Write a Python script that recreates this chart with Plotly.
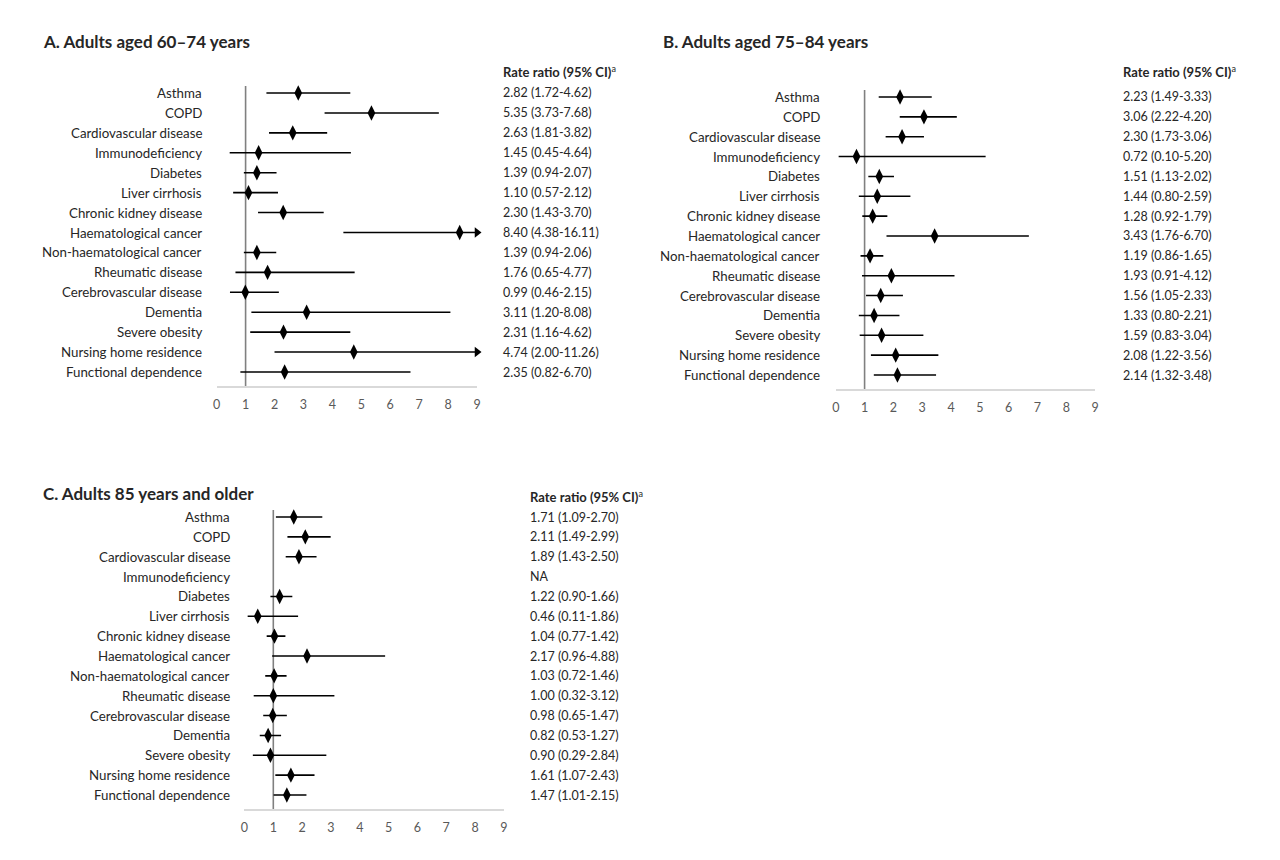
import plotly.graph_objects as go

conditions = [
    "Asthma", "COPD", "Cardiovascular disease", "Immunodeficiency", "Diabetes",
    "Liver cirrhosis", "Chronic kidney disease", "Haematological cancer",
    "Non-haematological cancer", "Rheumatic disease", "Cerebrovascular disease",
    "Dementia", "Severe obesity", "Nursing home residence", "Functional dependence",
]

# Panel A: adults aged 60-74
a_rr = [2.82, 5.35, 2.63, 1.45, 1.39, 1.10, 2.30, 8.40, 1.39, 1.76, 0.99, 3.11, 2.31, 4.74, 2.35]
a_lo = [1.72, 3.73, 1.81, 0.45, 0.94, 0.57, 1.43, 4.38, 0.94, 0.65, 0.46, 1.20, 1.16, 2.00, 0.82]
a_hi = [4.62, 7.68, 3.82, 4.64, 2.07, 2.12, 3.70, 16.11, 2.06, 4.77, 2.15, 8.08, 4.62, 11.26, 6.70]

# Panel B: adults aged 75-84
b_rr = [2.23, 3.06, 2.30, 0.72, 1.51, 1.44, 1.28, 3.43, 1.19, 1.93, 1.56, 1.33, 1.59, 2.08, 2.14]
b_lo = [1.49, 2.22, 1.73, 0.10, 1.13, 0.80, 0.92, 1.76, 0.86, 0.91, 1.05, 0.80, 0.83, 1.22, 1.32]
b_hi = [3.33, 4.20, 3.06, 5.20, 2.02, 2.59, 1.79, 6.70, 1.65, 4.12, 2.33, 2.21, 3.04, 3.56, 3.48]

# Panel C: adults 85 and older
c_rr = [1.71, 2.11, 1.89, None, 1.22, 0.46, 1.04, 2.17, 1.03, 1.00, 0.98, 0.82, 0.90, 1.61, 1.47]
c_lo = [1.09, 1.49, 1.43, None, 0.90, 0.11, 0.77, 0.96, 0.72, 0.32, 0.65, 0.53, 0.29, 1.07, 1.01]
c_hi = [2.70, 2.99, 2.50, None, 1.66, 1.86, 1.42, 4.88, 1.46, 3.12, 1.47, 1.27, 2.84, 2.43, 2.15]

titles = ["A. Adults aged 60–74 years", "B. Adults aged 75–84 years", "C. Adults 85 years and older"]
x_ticks = [0, 1, 2, 3, 4, 5, 6, 7, 8, 9]
x_max = 9
header = "<b>Rate ratio (95% CI)</b><sup>a</sup>"

W, H = 1280, 860
FONT = "Lato"

# layout (pixels): plot x0, x1, top, bottom, first row, last row, label right, value left, title xy, header y
panels = [
    dict(rr=a_rr, lo=a_lo, hi=a_hi, x0=214, x1=476, top=86, bot=386, r0=93, r1=372,
         lab=201, val=500, tx=37, ty=41, hy=72),
    dict(rr=b_rr, lo=b_lo, hi=b_hi, x0=837, x1=1098, top=90, bot=389, r0=97, r1=375,
         lab=823, val=1124, tx=661, ty=41, hy=72),
    dict(rr=c_rr, lo=c_lo, hi=c_hi, x0=242, x1=503, top=510, bot=809, r0=517, r1=795,
         lab=229, val=527, tx=37, ty=493, hy=497),
]

fig = go.Figure()
annotations = []
shapes = []
n = len(conditions)

for k, p in enumerate(panels, start=1):
    xa = "x" if k == 1 else f"x{k}"
    ya = "y" if k == 1 else f"y{k}"
    s = (p["r1"] - p["r0"]) / (n - 1)
    y_top = -(p["r0"] - p["top"]) / s
    y_bot = (n - 1) + (p["bot"] - p["r1"]) / s

    idx = [i for i in range(n) if p["rr"][i] is not None]
    xs = [p["rr"][i] for i in idx]
    plus = [min(p["hi"][i], x_max) - p["rr"][i] for i in idx]
    minus = [p["rr"][i] - p["lo"][i] for i in idx]

    fig.add_trace(go.Scatter(
        x=xs, y=idx, xaxis=xa, yaxis=ya, mode="markers",
        marker=dict(symbol="diamond-tall", size=11, color="black"),
        error_x=dict(type="data", symmetric=False, array=plus, arrayminus=minus,
                     thickness=1.6, width=0, color="black"),
        showlegend=False, hoverinfo="skip", cliponaxis=False,
    ))
    arr = [i for i in idx if p["hi"][i] > x_max]
    if arr:
        fig.add_trace(go.Scatter(
            x=[x_max] * len(arr), y=arr, xaxis=xa, yaxis=ya, mode="markers",
            marker=dict(symbol="triangle-right", size=9, color="black"),
            showlegend=False, hoverinfo="skip", cliponaxis=False,
        ))

    sfx = "" if k == 1 else str(k)
    fig.update_layout(**{
        f"xaxis{sfx}": dict(
            domain=[p["x0"] / W, p["x1"] / W], range=[0, x_max], anchor=ya,
            tickvals=x_ticks, ticks="", showgrid=False, zeroline=False,
            showline=True, linecolor="#d9d9d9", linewidth=1.5,
            tickfont=dict(family=FONT, size=12.5, color="#595959"),
            ticklabelstandoff=6, fixedrange=True,
        ),
        f"yaxis{sfx}": dict(
            domain=[1 - p["bot"] / H, 1 - p["top"] / H], range=[y_bot, y_top],
            anchor=xa, visible=False, fixedrange=True,
        ),
    })

    shapes.append(dict(type="line", xref=xa, yref=f"{ya} domain", x0=1, x1=1, y0=0, y1=1,
                       line=dict(color="#808080", width=1.6), layer="below"))

    for i in range(n):
        annotations.append(dict(
            xref="paper", yref=ya, x=p["lab"] / W, y=i, text=conditions[i],
            xanchor="right", yanchor="middle", showarrow=False,
            font=dict(family=FONT, size=13.3, color="#262626"),
        ))
        if p["rr"][i] is None:
            txt = "NA"
        else:
            txt = f"{p['rr'][i]:.2f} ({p['lo'][i]:.2f}-{p['hi'][i]:.2f})"
        annotations.append(dict(
            xref="paper", yref=ya, x=p["val"] / W, y=i, text=txt,
            xanchor="left", yanchor="middle", showarrow=False,
            font=dict(family=FONT, size=12.5, color="#262626"),
        ))
    annotations.append(dict(
        xref="paper", yref="paper", x=p["val"] / W, y=1 - p["hy"] / H, text=header,
        xanchor="left", yanchor="middle", showarrow=False,
        font=dict(family=FONT, size=13, color="#262626"),
    ))
    annotations.append(dict(
        xref="paper", yref="paper", x=p["tx"] / W, y=1 - p["ty"] / H,
        text=f"<b>{titles[k - 1]}</b>",
        xanchor="left", yanchor="middle", showarrow=False,
        font=dict(family=FONT, size=17, color="#262626"),
    ))

fig.update_layout(
    width=W, height=H, margin=dict(l=0, r=0, t=0, b=0),
    paper_bgcolor="white", plot_bgcolor="white",
    annotations=annotations, shapes=shapes,
)

fig.write_html(
    "out.html",
    config={"displayModeBar": False},
    post_script="document.body.style.margin='0';document.body.style.overflow='hidden';",
)
